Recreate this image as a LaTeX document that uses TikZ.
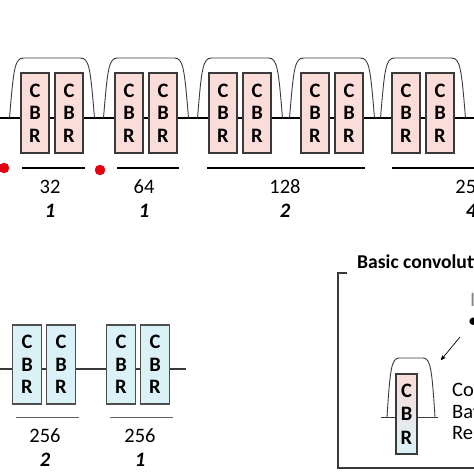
\documentclass[tikz,border=0pt]{standalone}
\usepackage{fontspec}
\setmainfont{Carlito}
\usepackage{tikz}
\usetikzlibrary{calc}
\usetikzlibrary{arrows}
\definecolor{cbrpink}{HTML}{FADCD9}
\definecolor{cbrblue}{HTML}{DBF1F8}
\definecolor{cbredge}{HTML}{3A3A3A}
\definecolor{dotred}{HTML}{E3000F}
\tikzset{
  cbr/.style={draw=cbredge, line width=1.1pt, fill=cbrpink, minimum width=28pt, minimum height=80pt,
    inner sep=0pt, align=center, font=\fontsize{20.5}{22.5}\selectfont\bfseries},
  cbrb/.style={cbr, fill=cbrblue, draw=cbredge!90, minimum width=29pt, minimum height=79pt},
  skiparc/.style={cbredge, line width=0.9pt},
  num/.style={inner sep=0pt, font=\fontsize{20.5}{23}\selectfont},
  rep/.style={inner sep=0pt, font=\fontsize{20.5}{23}\selectfont\bfseries\itshape},
  txt/.style={inner sep=0pt, anchor=base west, font=\fontsize{20.5}{23}\selectfont},
}

\begin{document}
\begin{tikzpicture}[x=1pt, y=-1pt]
\useasboundingbox (0,0) rectangle (474,474);
\clip (0,0) rectangle (474,474);
% top row
\coordinate (lin) at (0,118);
\coordinate (rin) at (474,118);
\draw[black, line width=1.4pt] (lin)--(rin);
\foreach \c [count=\i] in {52,146,240,332,423} {
  \coordinate (sa\i) at (\c-42.5,118);
  \coordinate (sb\i) at (\c+42.5,118);
  \draw[skiparc] (sa\i) .. controls ($(sa\i)+(4,-48)$) and ($(sa\i)+(5,-60)$) .. ($(sa\i)+(14,-60)$)
    -- ($(sb\i)+(-14,-60)$) .. controls ($(sb\i)+(-5,-60)$) and ($(sb\i)+(-4,-48)$) .. (sb\i);
  \node[cbr] (p\i a) at (\c-17,113) {C\\B\\R};
  \node[cbr] (p\i b) at (\c+17,113) {C\\B\\R};
}
\foreach \xa/\xb/\xl/\n/\r in {22/85/50/32/1, 117/179/144/64/1, 207/365/285/128/2, 392/552/471/256/4} {
  \draw[black, line width=1.4pt] (\xa,168)--(\xb,168);
  \node[num] at (\xl,187) {\n};
  \node[rep] at (\xl,211) {\r};
}
\filldraw[dotred] (4,168) circle (5pt);
\filldraw[dotred] (100,170) circle (5pt);
% bottom row
\coordinate (lb) at (0,369);
\coordinate (rb) at (186,369);
\draw[cbredge, line width=1.2pt] (lb)--(rb);
\foreach \c [count=\i] in {44,138} {
  \node[cbrb] (q\i a) at (\c-17,364.5) {C\\B\\R};
  \node[cbrb] (q\i b) at (\c+17,364.5) {C\\B\\R};
}
\foreach \xa/\xb/\xl/\n/\r in {16/79/45/256/2, 110/173/140/256/1} {
  \draw[cbredge!80, line width=1pt] (\xa,417)--(\xb,417);
  \node[num] at (\xl,436) {\n};
  \node[rep] at (\xl,460) {\r};
}
% basic convolution block
\draw[cbredge, line width=1.1pt] (347,273)--(338,273)--(338,468)--(552,468);
\node[inner sep=0pt, anchor=base west, font=\fontsize{19.6}{23}\selectfont\bfseries] (title) at (357,268) {Basic convolution};
\node[txt, anchor=west, text=gray] (idt) at (470,300) {I};
\node[txt, anchor=west] (bul) at (468,323) {\textbullet};
\coordinate (arrs) at (460,337);
\coordinate (arre) at (441,360);
\draw[black, line width=0.7pt, ->, >=stealth'] (arrs)--(arre);
\coordinate (ml) at (381,417);
\coordinate (mr) at (438,417);
\coordinate (ma) at (387,417);
\coordinate (mc) at (435,417);
\draw[cbredge, line width=1pt] (ml)--(mr);
\draw[skiparc] (ma) .. controls ($(ma)+(3,-45)$) and ($(ma)+(4,-59)$) .. ($(ma)+(12,-59)$)
  -- ($(mc)+(-12,-59)$) .. controls ($(mc)+(-4,-59)$) and ($(mc)+(-3,-45)$) .. (mc);
% pink to blue fill of the legend box
\foreach \k [evaluate=\k as \pc using int(\k*5)] in {0,...,20} {
  \fill[cbrblue!\pc!cbrpink] (396,374+\k*3.8) rectangle (417,374+\k*3.8+4);
}
\node[cbr, minimum width=21pt, fill=none, font=\fontsize{20.5}{23.5}\selectfont\bfseries] (mb) at (406.5,414) {C\\B\\R};
\node[txt] (conv) at (452,396) {Convolution};
\node[txt] (bn) at (452,418) {Batch normalization};
\node[txt] (relu) at (452,439) {ReLU};
\end{tikzpicture}
\end{document}
